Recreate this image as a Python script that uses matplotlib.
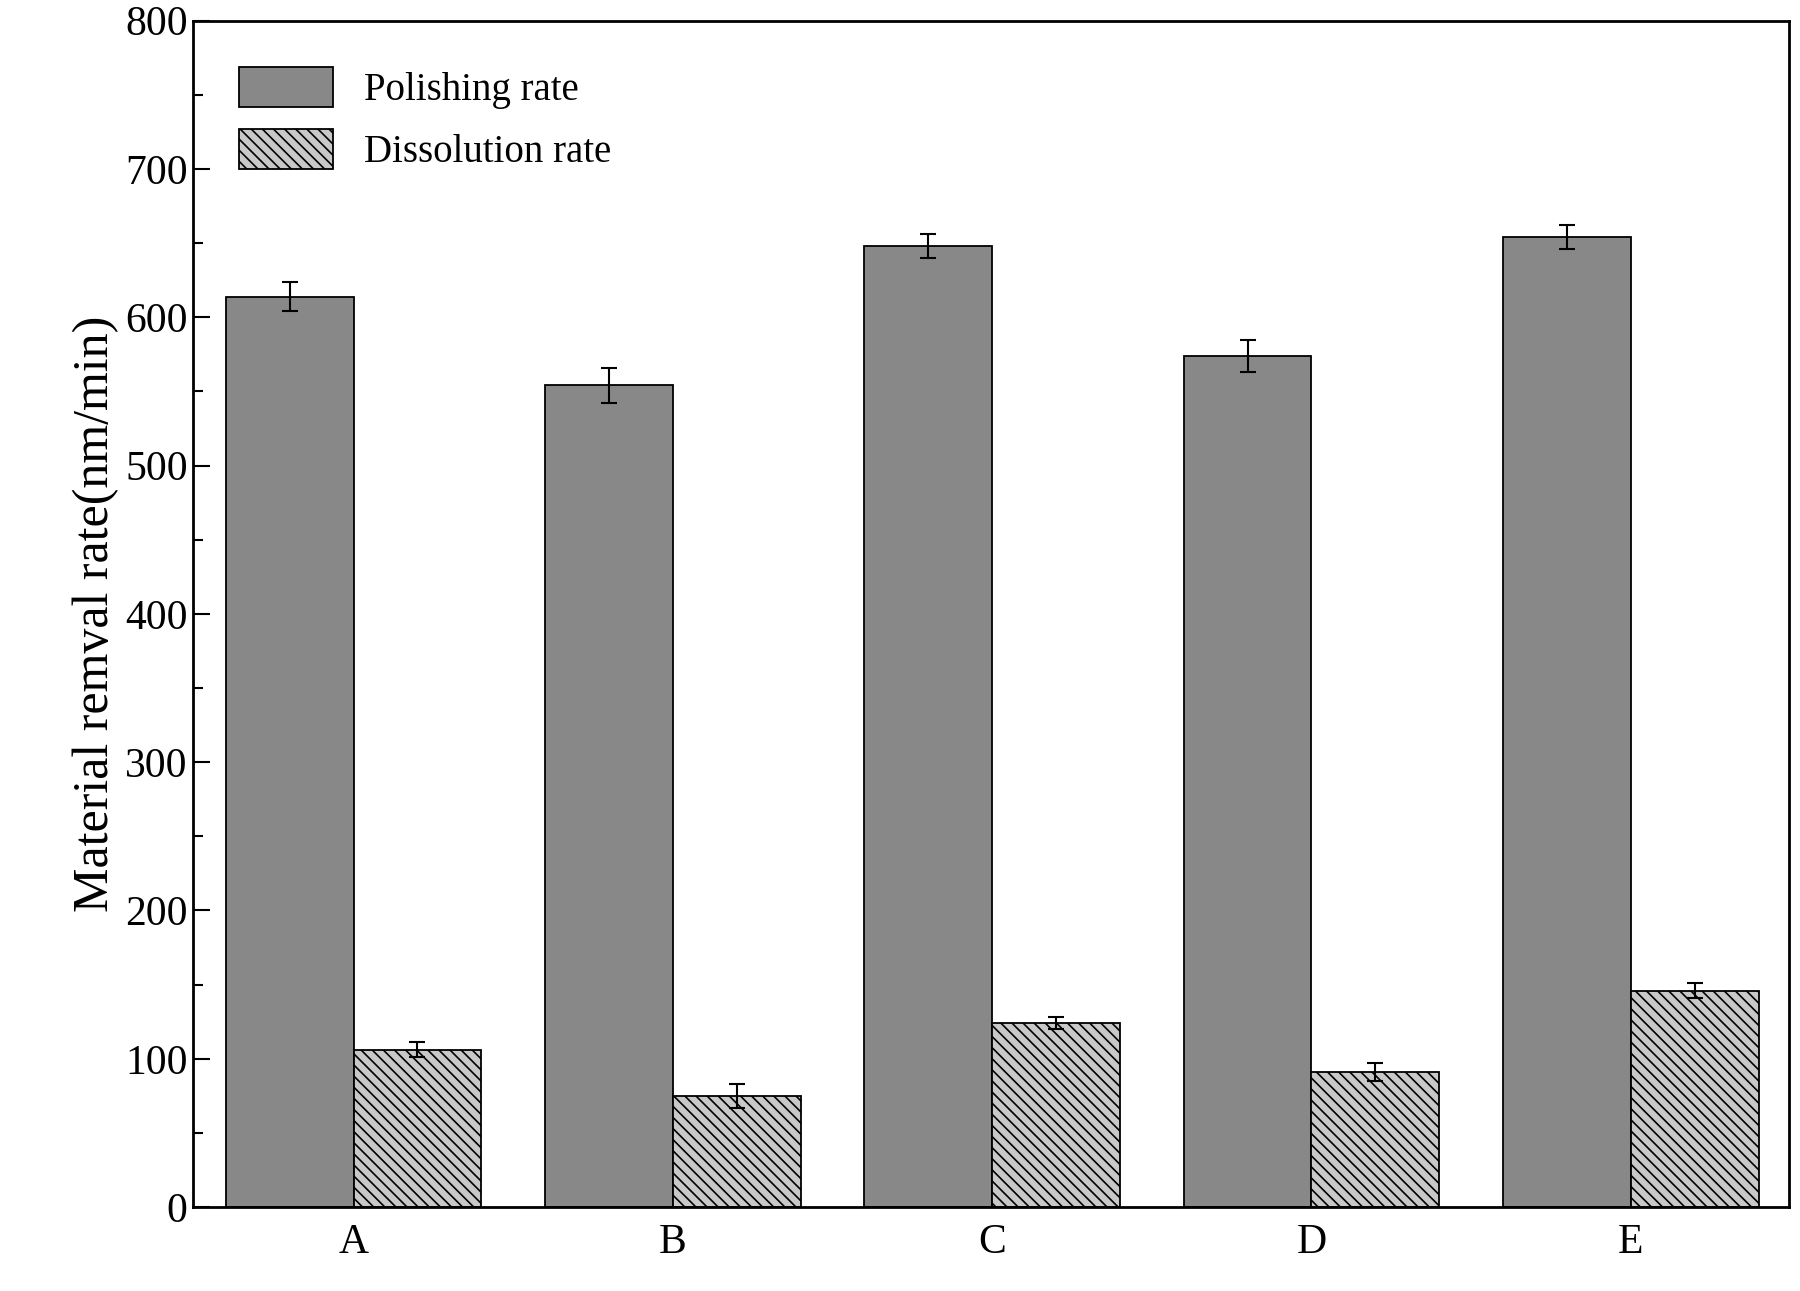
import matplotlib
matplotlib.use('Agg')
import matplotlib.pyplot as plt
from matplotlib.ticker import MultipleLocator
import numpy as np

categories = ["A", "B", "C", "D", "E"]
polishing = [614, 554, 648, 574, 654]
polishing_err = [10, 12, 8, 11, 8]
dissolution = [106, 75, 124, 91, 146]
dissolution_err = [5, 8, 4, 6, 5]

plt.rcParams['font.family'] = ['Liberation Serif', 'DejaVu Serif']
plt.rcParams['hatch.linewidth'] = 1.2

fig = plt.figure(figsize=(18, 12.91), dpi=100)
ax = fig.add_axes([0.107, 0.065, 0.887, 0.919])

x = np.arange(len(categories))
w = 0.4
ax.bar(x - w / 2, polishing, w, color='#888888', edgecolor='black', linewidth=1.3,
       yerr=polishing_err, capsize=6, error_kw=dict(elinewidth=1.5, capthick=1.5),
       label='Polishing rate')
ax.bar(x + w / 2, dissolution, w, color='#c8c8c8', edgecolor='black', linewidth=1.3,
       hatch='\\\\\\', yerr=dissolution_err, capsize=6,
       error_kw=dict(elinewidth=1.5, capthick=1.5), label='Dissolution rate')

ax.set_xlim(-0.504, 4.496)
ax.set_ylim(0, 800)
ax.set_xticks(x)
ax.set_xticklabels(categories)
ax.yaxis.set_major_locator(MultipleLocator(100))
ax.yaxis.set_minor_locator(MultipleLocator(50))
ax.tick_params(axis='both', which='both', direction='in', labelsize=30, width=1.5)
ax.tick_params(axis='y', which='major', length=12)
ax.tick_params(axis='y', which='minor', length=7)
ax.tick_params(axis='x', length=0, pad=12)
for s in ax.spines.values():
    s.set_linewidth(2)
ax.set_ylabel('Material remval rate(nm/min)', fontsize=36)

ax.legend(loc='upper left', fontsize=28, frameon=False, handlelength=2.4,
          handleheight=1.2, borderaxespad=0.8, labelspacing=0.5)

fig.savefig('out.png', dpi=100)
